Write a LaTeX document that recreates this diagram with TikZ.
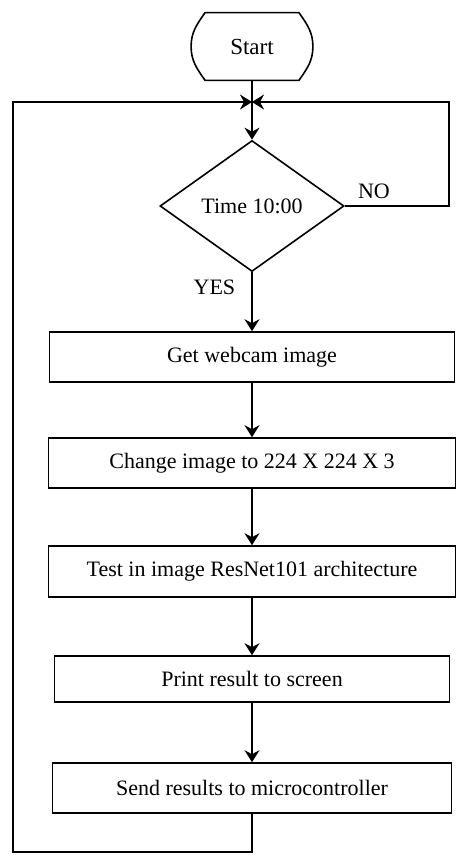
\documentclass[tikz,border=0pt]{standalone}
\usepackage{fontspec}
\setmainfont{Liberation Serif}
\usetikzlibrary{positioning,arrows.meta,calc,shapes.geometric}

\begin{document}
\begin{tikzpicture}[
  x=0.5pt, y=0.5pt,
  every node/.style={font=\fontsize{11}{13.2}\selectfont},
  box/.style={draw, line width=0.8pt, minimum height=25pt, inner sep=0pt},
  decide/.style={draw, diamond, aspect=1.4, minimum width=92pt,
    minimum height=65.5pt, inner sep=0pt, line width=0.8pt},
  term/.style={minimum width=60.5pt, minimum height=33.5pt, inner sep=0pt,
    font=\fontsize{11.5}{13.8}\selectfont},
  lbl/.style={inner sep=0pt},
  line/.style={line width=0.8pt},
  arr/.style={-{Stealth[length=6pt, width=7.5pt, inset=2pt]}, line width=0.8pt},
]
\useasboundingbox (0,0) rectangle (474,-867);

% ---- start terminal ----
\node[term] (start) at (252,-46.5) {Start};
\draw[line] ($(start.north west)+(7pt,0)$) coordinate (st)
  -- ($(start.north east)+(-7pt,0)$)
  to[out=-55,in=90] (start.east) to[out=-90,in=55] ($(start.south east)+(-7pt,0)$)
  -- ($(start.south west)+(7pt,0)$)
  to[out=125,in=-90] (start.west) to[out=90,in=-125] (st) -- cycle;

% ---- decision ----
\coordinate (join) at (252,-102);
\node[decide] (dec) at (252,-206) {Time 10:00};

% ---- processing steps ----
\node[box, minimum width=202.5pt] (cam) at (252,-357) {Get webcam image};
\node[box, minimum width=203.5pt] (resize) at (252,-463)
  {Change image to 224 X 224 X 3};
\node[box, minimum width=203.5pt, minimum height=25.5pt] (test) at (252,-571.5)
  {Test in image ResNet101 architecture};
\node[box, minimum width=197.5pt, minimum height=23pt] (print) at (252,-679)
  {Print result to screen};
\node[box, minimum width=199.5pt] (send) at (252,-788)
  {Send results to microcontroller};

% ---- arrows ----
\draw[arr] (start) -- (dec);
\draw[arr] (dec) -- node[lbl, pos=0.26, left=8pt]{YES} (cam);
\draw[arr] (cam) -- (resize);
\draw[arr] (resize) -- (test);
\draw[arr] (test) -- (print);
\draw[arr] (print) -- (send);

% NO: back round the right side
\coordinate (rgt) at (449,-102);
\draw[arr] (dec.east) -| node[lbl, pos=0.14, above=3pt]{NO} (rgt) -- (join);

% after sending: back round the left side
\coordinate (lbot) at (13,-852);
\draw[arr] (send.south) |- (lbot) |- (join);

\end{tikzpicture}
\end{document}
